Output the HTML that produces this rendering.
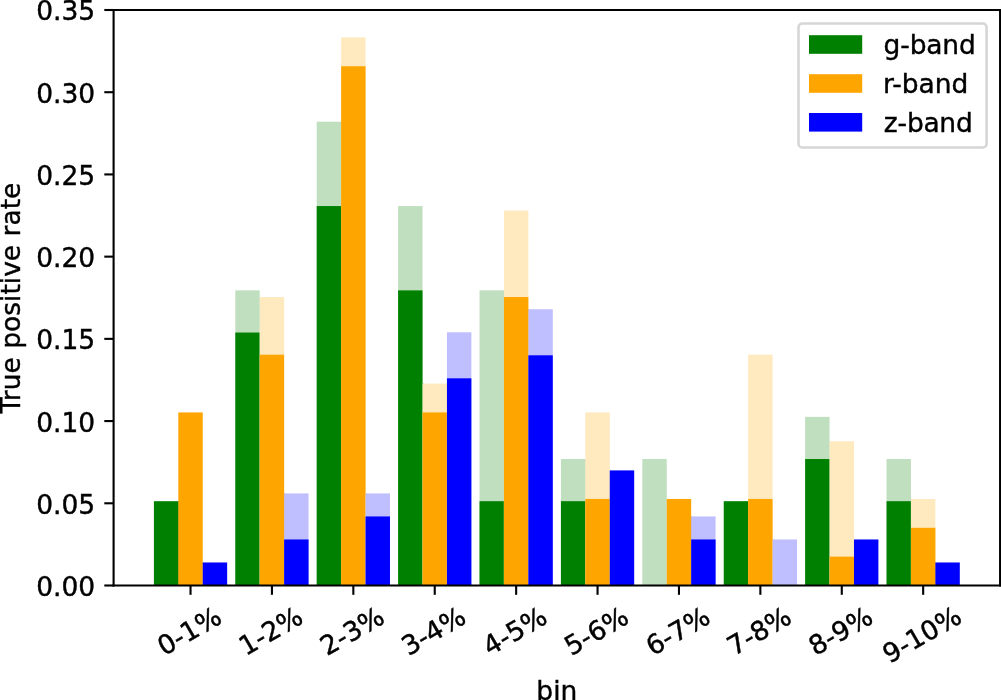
<!DOCTYPE html>
<html><head><meta charset="utf-8"><title>True positive rate by bin</title>
<style>
html,body{margin:0;padding:0;background:#fff;}
body{width:1001px;height:700px;overflow:hidden;}
svg{display:block;}
svg text{font-family:"DejaVu Sans","Liberation Sans",sans-serif;font-size:26.5px;fill:#000;stroke:#000;stroke-width:0.4px;}
svg text.xl{stroke-width:0.45px;}
</style></head><body>
<svg width="1001" height="700" viewBox="0 0 1001 700">
<rect x="0" y="0" width="1001" height="700" fill="#fff"/>
<g>
<rect x="153.90" y="501.18" width="24.42" height="84.32" fill="#008000"/>
<rect x="178.27" y="501.18" width="1.05" height="84.32" fill="#008000"/>
<rect x="178.32" y="412.42" width="24.42" height="173.08" fill="#ffa500"/>
<rect x="202.69" y="562.48" width="1.05" height="23.02" fill="#ffa500"/>
<rect x="202.74" y="562.48" width="24.42" height="23.02" fill="#0000ff"/>
<rect x="235.30" y="290.37" width="24.42" height="295.13" fill="#bfdfbf"/>
<rect x="235.30" y="332.53" width="24.42" height="252.97" fill="#008000"/>
<rect x="259.67" y="297.03" width="1.05" height="288.47" fill="#bfdfbf"/>
<rect x="259.67" y="332.53" width="1.05" height="252.97" fill="#008000"/>
<rect x="259.72" y="297.03" width="24.42" height="288.47" fill="#ffe9bf"/>
<rect x="259.72" y="354.72" width="24.42" height="230.78" fill="#ffa500"/>
<rect x="284.09" y="493.42" width="1.05" height="92.08" fill="#ffe9bf"/>
<rect x="284.09" y="493.42" width="1.05" height="92.08" fill="#ffa500"/>
<rect x="284.14" y="493.42" width="24.42" height="92.08" fill="#bfbfff"/>
<rect x="284.14" y="539.46" width="24.42" height="46.04" fill="#0000ff"/>
<rect x="316.71" y="121.73" width="24.42" height="463.77" fill="#bfdfbf"/>
<rect x="316.71" y="206.05" width="24.42" height="379.45" fill="#008000"/>
<rect x="341.08" y="121.73" width="1.05" height="463.77" fill="#bfdfbf"/>
<rect x="341.08" y="206.05" width="1.05" height="379.45" fill="#008000"/>
<rect x="341.13" y="37.40" width="24.42" height="548.10" fill="#ffe9bf"/>
<rect x="341.13" y="66.25" width="24.42" height="519.25" fill="#ffa500"/>
<rect x="365.50" y="493.42" width="1.05" height="92.08" fill="#ffe9bf"/>
<rect x="365.50" y="493.42" width="1.05" height="92.08" fill="#ffa500"/>
<rect x="365.55" y="493.42" width="24.42" height="92.08" fill="#bfbfff"/>
<rect x="365.55" y="516.44" width="24.42" height="69.06" fill="#0000ff"/>
<rect x="398.11" y="206.05" width="24.42" height="379.45" fill="#bfdfbf"/>
<rect x="398.11" y="290.37" width="24.42" height="295.13" fill="#008000"/>
<rect x="422.48" y="383.57" width="1.05" height="201.93" fill="#bfdfbf"/>
<rect x="422.48" y="383.57" width="1.05" height="201.93" fill="#008000"/>
<rect x="422.53" y="383.57" width="24.42" height="201.93" fill="#ffe9bf"/>
<rect x="422.53" y="412.42" width="24.42" height="173.08" fill="#ffa500"/>
<rect x="446.90" y="383.57" width="1.05" height="201.93" fill="#ffe9bf"/>
<rect x="446.90" y="412.42" width="1.05" height="173.08" fill="#ffa500"/>
<rect x="446.95" y="332.28" width="24.42" height="253.22" fill="#bfbfff"/>
<rect x="446.95" y="378.32" width="24.42" height="207.18" fill="#0000ff"/>
<rect x="479.52" y="290.37" width="24.42" height="295.13" fill="#bfdfbf"/>
<rect x="479.52" y="501.18" width="24.42" height="84.32" fill="#008000"/>
<rect x="503.89" y="290.37" width="1.05" height="295.13" fill="#bfdfbf"/>
<rect x="503.89" y="501.18" width="1.05" height="84.32" fill="#008000"/>
<rect x="503.94" y="210.49" width="24.42" height="375.01" fill="#ffe9bf"/>
<rect x="503.94" y="297.03" width="24.42" height="288.47" fill="#ffa500"/>
<rect x="528.31" y="309.26" width="1.05" height="276.24" fill="#ffe9bf"/>
<rect x="528.31" y="309.26" width="1.05" height="276.24" fill="#ffa500"/>
<rect x="528.36" y="309.26" width="24.42" height="276.24" fill="#bfbfff"/>
<rect x="528.36" y="355.30" width="24.42" height="230.20" fill="#0000ff"/>
<rect x="560.92" y="459.02" width="24.42" height="126.48" fill="#bfdfbf"/>
<rect x="560.92" y="501.18" width="24.42" height="84.32" fill="#008000"/>
<rect x="585.29" y="459.02" width="1.05" height="126.48" fill="#bfdfbf"/>
<rect x="585.29" y="501.18" width="1.05" height="84.32" fill="#008000"/>
<rect x="585.34" y="412.42" width="24.42" height="173.08" fill="#ffe9bf"/>
<rect x="585.34" y="498.96" width="24.42" height="86.54" fill="#ffa500"/>
<rect x="609.71" y="470.40" width="1.05" height="115.10" fill="#ffe9bf"/>
<rect x="609.71" y="498.96" width="1.05" height="86.54" fill="#ffa500"/>
<rect x="609.76" y="470.40" width="24.42" height="115.10" fill="#0000ff"/>
<rect x="642.33" y="459.02" width="24.42" height="126.48" fill="#bfdfbf"/>
<rect x="666.70" y="498.96" width="1.05" height="86.54" fill="#bfdfbf"/>
<rect x="666.75" y="498.96" width="24.42" height="86.54" fill="#ffa500"/>
<rect x="691.12" y="516.44" width="1.05" height="69.06" fill="#ffa500"/>
<rect x="691.17" y="516.44" width="24.42" height="69.06" fill="#bfbfff"/>
<rect x="691.17" y="539.46" width="24.42" height="46.04" fill="#0000ff"/>
<rect x="723.73" y="501.18" width="24.42" height="84.32" fill="#008000"/>
<rect x="748.10" y="501.18" width="1.05" height="84.32" fill="#008000"/>
<rect x="748.15" y="354.72" width="24.42" height="230.78" fill="#ffe9bf"/>
<rect x="748.15" y="498.96" width="24.42" height="86.54" fill="#ffa500"/>
<rect x="772.52" y="539.46" width="1.05" height="46.04" fill="#ffe9bf"/>
<rect x="772.52" y="539.46" width="1.05" height="46.04" fill="#ffa500"/>
<rect x="772.57" y="539.46" width="24.42" height="46.04" fill="#bfbfff"/>
<rect x="805.14" y="416.86" width="24.42" height="168.64" fill="#bfdfbf"/>
<rect x="805.14" y="459.02" width="24.42" height="126.48" fill="#008000"/>
<rect x="829.51" y="441.26" width="1.05" height="144.24" fill="#bfdfbf"/>
<rect x="829.51" y="459.02" width="1.05" height="126.48" fill="#008000"/>
<rect x="829.56" y="441.26" width="24.42" height="144.24" fill="#ffe9bf"/>
<rect x="829.56" y="556.65" width="24.42" height="28.85" fill="#ffa500"/>
<rect x="853.93" y="539.46" width="1.05" height="46.04" fill="#ffe9bf"/>
<rect x="853.93" y="556.65" width="1.05" height="28.85" fill="#ffa500"/>
<rect x="853.98" y="539.46" width="24.42" height="46.04" fill="#0000ff"/>
<rect x="886.54" y="459.02" width="24.42" height="126.48" fill="#bfdfbf"/>
<rect x="886.54" y="501.18" width="24.42" height="84.32" fill="#008000"/>
<rect x="910.91" y="498.96" width="1.05" height="86.54" fill="#bfdfbf"/>
<rect x="910.91" y="501.18" width="1.05" height="84.32" fill="#008000"/>
<rect x="910.96" y="498.96" width="24.42" height="86.54" fill="#ffe9bf"/>
<rect x="910.96" y="527.81" width="24.42" height="57.69" fill="#ffa500"/>
<rect x="935.33" y="562.48" width="1.05" height="23.02" fill="#ffe9bf"/>
<rect x="935.33" y="562.48" width="1.05" height="23.02" fill="#ffa500"/>
<rect x="935.38" y="562.48" width="24.42" height="23.02" fill="#0000ff"/>
</g>
<g stroke="#000" stroke-width="2.1" fill="none">
<line x1="104.30" y1="585.50" x2="113.60" y2="585.50"/>
<line x1="104.30" y1="503.29" x2="113.60" y2="503.29"/>
<line x1="104.30" y1="421.07" x2="113.60" y2="421.07"/>
<line x1="104.30" y1="338.86" x2="113.60" y2="338.86"/>
<line x1="104.30" y1="256.64" x2="113.60" y2="256.64"/>
<line x1="104.30" y1="174.43" x2="113.60" y2="174.43"/>
<line x1="104.30" y1="92.21" x2="113.60" y2="92.21"/>
<line x1="104.30" y1="10.00" x2="113.60" y2="10.00"/>
<line x1="190.53" y1="585.50" x2="190.53" y2="594.80"/>
<line x1="271.93" y1="585.50" x2="271.93" y2="594.80"/>
<line x1="353.34" y1="585.50" x2="353.34" y2="594.80"/>
<line x1="434.74" y1="585.50" x2="434.74" y2="594.80"/>
<line x1="516.15" y1="585.50" x2="516.15" y2="594.80"/>
<line x1="597.55" y1="585.50" x2="597.55" y2="594.80"/>
<line x1="678.96" y1="585.50" x2="678.96" y2="594.80"/>
<line x1="760.36" y1="585.50" x2="760.36" y2="594.80"/>
<line x1="841.77" y1="585.50" x2="841.77" y2="594.80"/>
<line x1="923.17" y1="585.50" x2="923.17" y2="594.80"/>
<g stroke-linecap="square">
<line x1="113.6" y1="10.0" x2="113.6" y2="585.5"/>
<line x1="1000.1" y1="10.0" x2="1000.1" y2="585.5"/>
<line x1="113.6" y1="585.5" x2="1000.1" y2="585.5"/>
<line x1="113.6" y1="10.0" x2="1000.1" y2="10.0"/>
</g>
</g>
<g>
<text transform="translate(95.20,595.95) scale(1,1.02)" text-anchor="end">0.00</text>
<text transform="translate(95.20,513.74) scale(1,1.02)" text-anchor="end">0.05</text>
<text transform="translate(95.20,431.52) scale(1,1.02)" text-anchor="end">0.10</text>
<text transform="translate(95.20,349.31) scale(1,1.02)" text-anchor="end">0.15</text>
<text transform="translate(95.20,267.09) scale(1,1.02)" text-anchor="end">0.20</text>
<text transform="translate(95.20,184.88) scale(1,1.02)" text-anchor="end">0.25</text>
<text transform="translate(95.20,102.66) scale(1,1.02)" text-anchor="end">0.30</text>
<text transform="translate(95.20,20.45) scale(1,1.02)" text-anchor="end">0.35</text>
<text class="xl" transform="translate(189.08,630.70) rotate(-30)" text-anchor="middle" y="9.60">0-1%</text>
<text class="xl" transform="translate(270.48,630.70) rotate(-30)" text-anchor="middle" y="9.60">1-2%</text>
<text class="xl" transform="translate(351.89,630.70) rotate(-30)" text-anchor="middle" y="9.60">2-3%</text>
<text class="xl" transform="translate(433.29,630.70) rotate(-30)" text-anchor="middle" y="9.60">3-4%</text>
<text class="xl" transform="translate(514.70,630.70) rotate(-30)" text-anchor="middle" y="9.60">4-5%</text>
<text class="xl" transform="translate(596.10,630.70) rotate(-30)" text-anchor="middle" y="9.60">5-6%</text>
<text class="xl" transform="translate(677.51,630.70) rotate(-30)" text-anchor="middle" y="9.60">6-7%</text>
<text class="xl" transform="translate(758.91,630.70) rotate(-30)" text-anchor="middle" y="9.60">7-8%</text>
<text class="xl" transform="translate(840.32,630.70) rotate(-30)" text-anchor="middle" y="9.60">8-9%</text>
<text class="xl" transform="translate(921.72,634.40) rotate(-30)" text-anchor="middle" y="9.60">9-10%</text>
<text transform="translate(556.85,700.20) scale(1,1.02)" text-anchor="middle">bin</text>
<text transform="translate(20.30,298.05) rotate(-90)" text-anchor="middle">True positive rate</text>
</g>
<g>
<rect x="798.5" y="23.5" width="188.1" height="124.0" rx="3.8" ry="3.8" fill="#fff" fill-opacity="0.8" stroke="#ccc" stroke-opacity="0.8" stroke-width="2.6"/>
<rect x="809" y="35.2" width="53.2" height="18.6" fill="#008000"/>
<rect x="809" y="74.2" width="53.2" height="18.6" fill="#ffa500"/>
<rect x="809" y="113" width="53.2" height="18.6" fill="#0000ff"/>
<text transform="translate(882.75,53.80) scale(1,1.02)" dx="0.7 0 0 -0.4 -0.3 0">g-band</text>
<text transform="translate(883.00,92.80) scale(1,1.02)">r-band</text>
<text transform="translate(882.75,131.60) scale(1,1.02)" dx="0.9 0 0 -0.5 -0.4 0">z-band</text>
</g>
</svg>
</body></html>
